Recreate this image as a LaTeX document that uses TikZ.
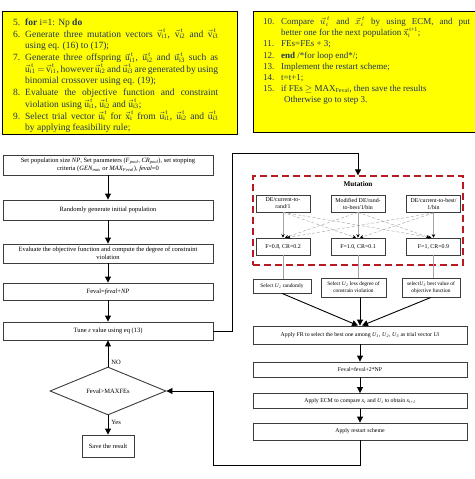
\documentclass[tikz,border=0pt]{standalone}
\usepackage{fontspec}
\setmainfont{Liberation Serif}
\usepackage{amsmath}
\usetikzlibrary{shapes.geometric,arrows.meta}

\definecolor{algyellow}{RGB}{255,255,0}
\definecolor{algink}{RGB}{30,50,90}
\definecolor{mutred}{RGB}{185,25,35}
\definecolor{boxgray}{RGB}{60,60,60}
\definecolor{linkgray}{RGB}{165,165,165}

% vector with super/subscript, upright letters
\newcommand{\vt}[3]{$\vec{\text{#1}}^{\,\text{#2}}_{\text{#3}}$}
% italic symbol with italic index
\newcommand{\iv}[2]{\textit{#1}\textsubscript{\textit{#2}}}
% one numbered step of the pseudo code
\newcommand{\algitem}[3]{\par\hangindent=#1\hangafter=1\noindent\makebox[#1][l]{#2}#3\par}

\begin{document}
\begin{tikzpicture}[x=1pt, y=-1pt]
	\tikzstyle{every node}=[inner sep=1pt, align=center]
	\tikzstyle{flowbox}=[draw=boxgray, line width=0.9pt, fill=white, font=\fontsize{6.5}{7.6}\selectfont]
	\tikzstyle{chainbox}=[draw=boxgray, line width=0.9pt, fill=white, font=\fontsize{5.8}{7}\selectfont, minimum width=214, minimum height=16]
	\tikzstyle{stratbox}=[draw=boxgray, line width=0.7pt, fill=white, font=\fontsize{5.9}{7}\selectfont, minimum width=54, minimum height=17]
	\tikzstyle{selbox}=[draw=boxgray, line width=0.8pt, fill=white, font=\fontsize{5.4}{6.8}\selectfont]
	\tikzstyle{flowarrow}=[line width=0.9pt, -{Triangle[length=6pt,width=6pt]}]
	\tikzstyle{mutlink}=[linkgray, line width=0.45pt, -{Stealth[length=3.5pt,width=3.5pt,black]}]
	\tikzstyle{algtext}=[anchor=north west, inner sep=0pt, align=justify, text=algink]
	\useasboundingbox (0,0) rectangle (474,479);

	% pseudo code boxes
	\draw[fill=algyellow, line width=0.8pt] (2,11) rectangle (237,134);
	\draw[fill=algyellow, line width=0.8pt] (253,11) rectangle (480,132);
	\node[algtext, text width=205, font=\fontsize{9.5}{11.7}\selectfont] (StepsA) at (13,13.5) {%
		\hyphenpenalty=10000\exhyphenpenalty=10000
		\algitem{12pt}{5.}{\textbf{for} i=1: Np \textbf{do}}
		\algitem{12pt}{6.}{Generate three mutation vectors \vt{v}{t}{i1}, \vt{v}{t}{i2} and \vt{v}{t}{i3}\linebreak using eq. (16) to (17);}
		\algitem{12pt}{7.}{Generate three offspring \vt{u}{t}{i1}, \vt{u}{t}{i2} and \vt{u}{t}{i3} such as\linebreak \vt{u}{t}{i1} $=$ \vt{v}{t}{i1}, however \vt{u}{t}{i2} and \vt{u}{t}{i3} are generated by using binomial crossover using eq. (19);}
		\algitem{12pt}{8.}{Evaluate the objective function and constraint\linebreak violation using \vt{u}{t}{i1}, \vt{u}{t}{i2} and \vt{u}{t}{i3};}
		\algitem{12pt}{9.}{Select trial vector \vt{u}{t}{i} for \vt{x}{t}{i} from \vt{u}{t}{i1}, \vt{u}{t}{i2} and \vt{u}{t}{i3}\linebreak by applying feasibility rule;}};
	\node[algtext, text width=207, font=\fontsize{9}{11.2}\selectfont] (StepsB) at (263,13) {%
		\hyphenpenalty=10000\exhyphenpenalty=10000
		\algitem{18pt}{10.}{Compare $\vec{u}^{\,t}_i$ and $\vec{x}^{\,t}_i$ by using ECM, and put\linebreak better one for the next population \vt{x}{t+1}{i};}
		\algitem{18pt}{11.}{FEs=FEs + 3;}
		\algitem{18pt}{12.}{\textbf{end} /*for loop end*/;}
		\algitem{18pt}{13.}{Implement the restart scheme;}
		\algitem{18pt}{14.}{t=t+1;}
		\algitem{18pt}{15.}{if FEs $\geq$ MAX$_{\text{Feval}}$, then save the results\newline\hspace*{3pt}Otherwise go to step 3.}};

	% main loop
	\node[flowbox, minimum width=210, minimum height=20] (Init) at (108,165) {Set population size \textit{NP}, Set parameters (\iv{F}{pool}, \iv{CR}{pool}), set stopping\\criteria (\iv{GEN}{max} or \iv{MAX}{Feval}), \textit{feval}=0};
	\node[flowbox, minimum width=210, minimum height=20] (RandPop) at (108,210) {Randomly generate initial population};
	\node[flowbox, minimum width=210, minimum height=19] (EvalObj) at (108,253.5) {Evaluate the objective function and compute the degree of constraint\\violation};
	\node[flowbox, minimum width=210, minimum height=17] (FevalA) at (108,291.5) {Feval=\textit{feval}+\textit{NP}};
	\node[flowbox, minimum width=210, minimum height=18] (Tune) at (108,331) {Tune \textit{ε} value using eq (13)};
	\node[flowbox, diamond, minimum width=116, minimum height=36, inner sep=0pt] (Check) at (108,391) {Feval>MAXFEs};
	\node[flowbox, minimum width=52, minimum height=22] (Save) at (108,446) {Save the result};
	\draw [flowarrow] (Init) -- (RandPop);
	\draw [flowarrow] (RandPop) -- (EvalObj);
	\draw [flowarrow] (EvalObj) -- (FevalA);
	\draw [flowarrow] (FevalA) -- (Tune);
	\draw [flowarrow] (Check) -- (Tune) node[pos=0.15, right, inner sep=3pt, font=\fontsize{6.5}{7}\selectfont] {NO};
	\draw [flowarrow] (Check) -- (Save) node[pos=0.35, right, inner sep=3pt, font=\fontsize{6.5}{7}\selectfont] {Yes};

	% mutation block
	\node[draw=mutred, line width=1.3pt, dash pattern=on 7pt off 4pt, minimum width=210, minimum height=89] (Mut) at (358,220.5) {};
	\node[font=\bfseries\fontsize{7.2}{8}\selectfont] (MutTitle) at (358,184) {Mutation};
	\node[stratbox] (CurRand) at (283,203.5) {DE/current-to-\\rand/1};
	\node[stratbox] (RandBest) at (358,203.5) {Modified DE/rand-\\to-best/1/bin};
	\node[stratbox] (CurBest) at (433.5,204) {DE/current-to-best/\\1/bin};
	\node[stratbox] (ParA) at (283,246.5) {F=0.8, CR=0.2};
	\node[stratbox] (ParB) at (358,246.5) {F=1.0, CR=0.1};
	\node[stratbox] (ParC) at (433.5,246.5) {F=1, CR=0.9};
	\draw [mutlink] (CurRand) -- (ParA);
	\draw [mutlink] (RandBest) -- (ParB);
	\draw [mutlink] (CurBest) -- (ParC);
	\draw [mutlink, densely dashed] (CurRand.south) -- ([xshift=-2pt]ParB.north);
	\draw [mutlink, densely dashed] (CurRand.south) -- ([xshift=-2pt]ParC.north);
	\draw [mutlink, densely dashed] (RandBest.south) -- ([xshift=2pt]ParA.north);
	\draw [mutlink, densely dashed] (RandBest.south) -- ([xshift=-4pt]ParC.north);
	\draw [mutlink, densely dashed] (CurBest.south) -- ([xshift=4pt]ParA.north);
	\draw [mutlink, densely dashed] (CurBest.south) -- ([xshift=2pt]ParB.north);

	% selection and update
	\node[selbox, minimum width=58, minimum height=14] (SelA) at (282,286) {Select \iv{U}{1} randomly};
	\node[selbox, minimum width=65, minimum height=19] (SelB) at (353.5,287.5) {Select \iv{U}{2} less degree of\\constrain violation};
	\node[selbox, minimum width=58, minimum height=19] (SelC) at (431,287.5) {select\iv{U}{3} best value of\\objective function};
	\draw [linkgray, line width=0.5pt] (ParA.south) -- (ParA.south |- SelA.north);
	\draw [linkgray, line width=0.5pt] (ParB.south) -- (ParB.south |- SelB.north);
	\draw [linkgray, line width=0.5pt] (ParC.south) -- (ParC.south |- SelC.north);
	\node[chainbox, minimum height=18] (ApplyFR) at (360,335) {Apply FR to select the best one among \iv{U}{1}, \iv{U}{2}, \iv{U}{3} as trial vector \textit{Ui}};
	\node[chainbox, minimum height=15] (FevalB) at (360,369.5) {Feval=feval+2*NP};
	\node[chainbox, minimum height=15] (ECM) at (360,401) {Apply ECM to compare \iv{x}{i} and \iv{U}{i} to obtain \iv{x}{i+1}};
	\node[chainbox, minimum height=17] (Restart) at (360,431.5) {Apply restart scheme};
	\draw [flowarrow] (SelA.south) -- ([xshift=-2pt]ApplyFR.north);
	\draw [flowarrow] (SelB.south -| ApplyFR.north) -- (ApplyFR.north);
	\draw [flowarrow] (SelC.south) -- ([xshift=2pt]ApplyFR.north);
	\draw [flowarrow] (ApplyFR) -- (FevalB);
	\draw [flowarrow] (FevalB) -- (ECM);
	\draw [flowarrow] (ECM) -- (Restart);

	% loops back
	\coordinate (LoopTop) at (232,153);
	\coordinate (LoopBottom) at (213,465);
	\draw [flowarrow] (Tune.east) -| (LoopTop) -| (Mut.north);
	\draw [flowarrow] (Restart.south) |- (LoopBottom) |- (Check.east);
\end{tikzpicture}
\end{document}
